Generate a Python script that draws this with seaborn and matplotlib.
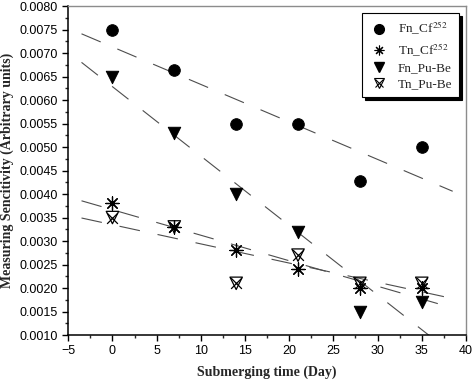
import numpy as np
import pandas as pd
import matplotlib

matplotlib.use("Agg")
import matplotlib.pyplot as plt
import seaborn as sns
from matplotlib.legend_handler import HandlerTuple
from matplotlib.lines import Line2D
from matplotlib.ticker import MultipleLocator

# ----------------------------------------------------------------------
# Data
# ----------------------------------------------------------------------
days = [0, 7, 14, 21, 28, 35]
fn_cf = [0.0075, 0.00663, 0.0055, 0.0055, 0.00428, 0.0050]
tn_cf = [0.0038, 0.0033, 0.0028, 0.0024, 0.0020, 0.0020]
fn_pube = [0.0065, 0.0053, 0.0040, 0.0032, 0.0015, 0.0017]
tn_pube = [0.0035, 0.0033, 0.0021, 0.0027, 0.0021, 0.0021]

labels = ["Fn_Cf$^{252}$", "Tn_Cf$^{252}$", "Fn_Pu-Be", "Tn_Pu-Be"]
fit_range = (-3.5, 38.5)

sns.set_style("ticks")
plt.rcParams["font.family"] = ["Liberation Sans", "DejaVu Sans"]
plt.rcParams["mathtext.fontset"] = "stix"
plt.rcParams["lines.scale_dashes"] = False

fig = plt.figure(figsize=(4.74, 3.82), dpi=100)
ax = fig.add_axes([0.144, 0.123, 0.839, 0.861])

# regression lines (extended 10% past the data, like the original software)
ax.set_xlim(*fit_range)
line_kws = dict(color="0.3", lw=0.8, dashes=(15, 13))
for vals in (fn_cf, tn_cf, fn_pube, tn_pube):
    sns.regplot(x=days, y=vals, scatter=False, ci=None, truncate=False,
                line_kws=line_kws, ax=ax)

# markers
sns.scatterplot(x=days, y=fn_cf, marker="o", s=70, color="black",
                edgecolor="black", ax=ax, zorder=3)
sns.scatterplot(x=days, y=tn_cf, marker=(8, 2, 0), s=90, color="black",
                linewidth=0.9, ax=ax, zorder=3)
sns.scatterplot(x=days, y=fn_pube, marker="v", s=80, color="black",
                edgecolor="black", ax=ax, zorder=3)
sns.scatterplot(x=days, y=tn_pube, marker="v", s=80, facecolor="none",
                edgecolor="black", linewidth=0.9, ax=ax, zorder=3)
sns.scatterplot(x=days, y=tn_pube, marker="x", s=60, color="black",
                linewidth=0.9, ax=ax, zorder=3)

ax.set_xlim(-5, 40)
ax.set_ylim(0.0010, 0.0080)
ax.xaxis.set_major_locator(MultipleLocator(5))
ax.xaxis.set_minor_locator(MultipleLocator(2.5))
ax.yaxis.set_major_locator(MultipleLocator(0.0005))
ax.yaxis.set_minor_locator(MultipleLocator(0.00025))
ax.yaxis.set_major_formatter(plt.FuncFormatter(lambda v, p: f"{v:.4f}"))
ax.tick_params(which="major", direction="out", length=4, width=1,
               labelsize=9, colors="black", top=False, right=False)
ax.tick_params(which="minor", direction="out", length=2.5, width=1,
               top=False, right=False)
for side in ("left", "bottom"):
    ax.spines[side].set_color("black")
    ax.spines[side].set_linewidth(1.1)
for side in ("top", "right"):
    ax.spines[side].set_color("0.55")
    ax.spines[side].set_linewidth(1.0)

ax.set_xlabel("Submerging time (Day)", family="Liberation Serif",
              fontweight="bold", fontsize=10, labelpad=6)
ax.set_ylabel("Measuring Sencitivity (Arbitrary units)",
              family="Liberation Serif", fontweight="bold", fontsize=10,
              labelpad=4)

# legend
h_fn_cf = Line2D([], [], ls="", marker="o", ms=7, color="black")
h_tn_cf = Line2D([], [], ls="", marker=(8, 2, 0), ms=7, color="black", mew=0.8)
h_fn_pb = Line2D([], [], ls="", marker="v", ms=7, color="black")
h_tn_pb = (Line2D([], [], ls="", marker="v", ms=7, mfc="none", mec="black", mew=0.8),
           Line2D([], [], ls="", marker="x", ms=6, color="black", mew=0.8))
leg = ax.legend([h_fn_cf, h_tn_cf, h_fn_pb, h_tn_pb], labels,
                loc="upper right", bbox_to_anchor=(0.993, 0.99),
                handler_map={tuple: HandlerTuple(ndivide=1)},
                prop={"family": "Liberation Serif", "size": 9.5},
                frameon=True, fancybox=False, edgecolor="black",
                shadow={"color": "black", "alpha": 1}, framealpha=1,
                handlelength=1.5, handletextpad=0.7, borderpad=0.5,
                labelspacing=0.28, borderaxespad=0.3)
leg.get_frame().set_linewidth(0.8)

fig.savefig("out.png", dpi=100)
